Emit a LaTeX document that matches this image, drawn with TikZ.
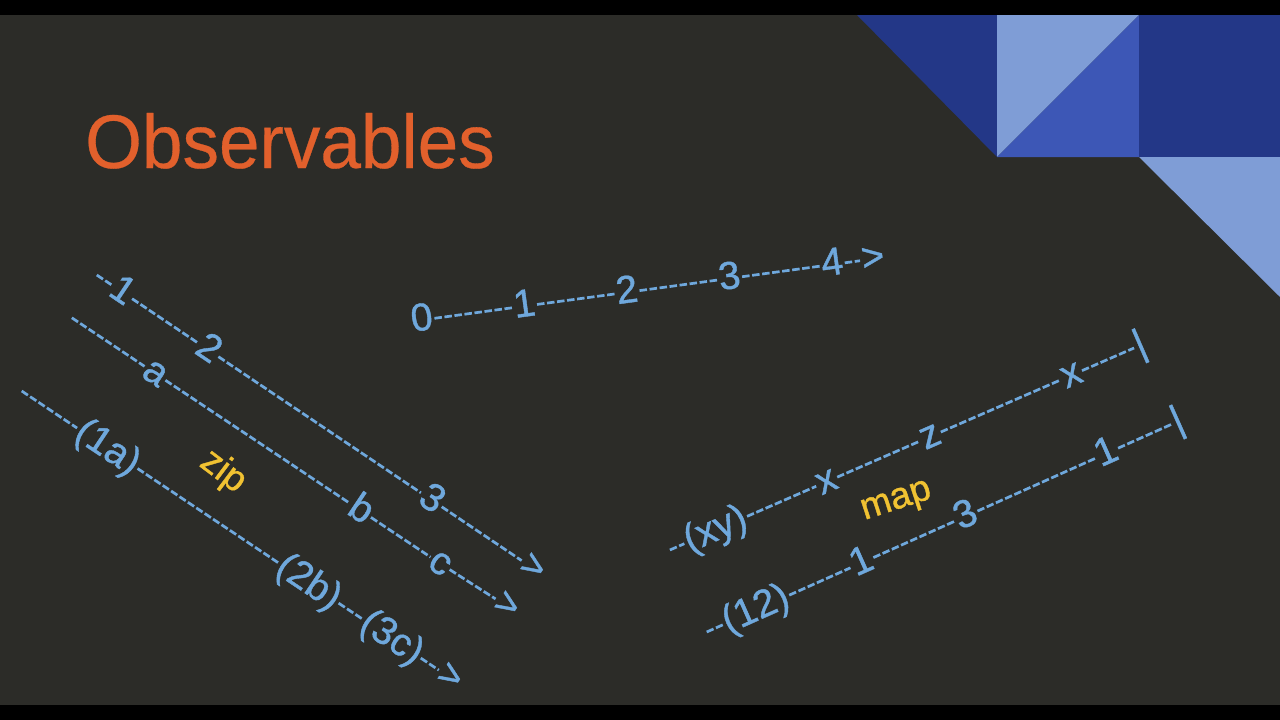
\documentclass[tikz,border=0pt]{standalone}
\usepackage{fontspec}
\usepackage{graphicx}
\setmainfont{Liberation Sans}
\newfontfamily\lblfont{Liberation Sans}[RawFeature={embolden=1.0}]
\newfontfamily\ttlfont{Liberation Sans}[RawFeature={embolden=0.4}]
\definecolor{bgcol}{HTML}{2C2C28}
\definecolor{tridark}{HTML}{233787}
\definecolor{trimid}{HTML}{3D57B6}
\definecolor{trilight}{HTML}{7F9DD6}
\definecolor{obsblue}{HTML}{6FA8DC}
\definecolor{obsorange}{HTML}{E2602C}
\definecolor{obsyellow}{HTML}{F1C232}
\tikzset{
  lbl/.style={text=obsblue, font=\lblfont\fontsize{39}{42}\selectfont, inner xsep=1.5pt, inner ysep=0pt, text height=21pt, text depth=0pt},
  oplbl/.style={text=obsyellow, font=\lblfont\fontsize{37}{40}\selectfont, inner sep=0pt},
  dline/.style={draw=obsblue, line width=2.7pt, dash pattern=on 7.5pt off 2.6pt},
  titlestyle/.style={text=obsorange, font=\ttlfont\fontsize{76}{80}\selectfont, inner sep=0pt}
}
\begin{document}
\begin{tikzpicture}[x=1pt,y=-1pt]
\useasboundingbox (0,0) rectangle (1280,720);
\fill[black] (0,0) rectangle (1280,720);
\fill[bgcol] (0,15) rectangle (1280,705);
% corner decoration
\fill[tridark] (857,15) -- (997,15) -- (997,157) -- cycle;
\fill[trilight] (997,15) -- (1139,15) -- (997,157) -- cycle;
\fill[trimid] (1139,15) -- (1139,157) -- (997,157) -- cycle;
\fill[tridark] (1139,15) rectangle (1280,157);
\fill[trilight] (1139,157) -- (1280,157) -- (1280,297) -- cycle;
% title
\node[titlestyle, anchor=base west] (title) at (85,168) {\scalebox{0.96}[1]{Observables}};
% top line
\node[lbl, rotate=7.7] (t0) at (422,320) {0};
\node[lbl, rotate=7.7] (t1) at (524.6,306.1) {1};
\node[lbl, rotate=7.7] (t2) at (627.1,292.3) {2};
\node[lbl, rotate=7.7] (t3) at (729.7,278.4) {3};
\node[lbl, rotate=7.7] (t4) at (832.3,264.5) {4};
\node[lbl, rotate=7.7] (ta) at (873,259) {>};
\draw[dline] (t0) -- (t1);
\draw[dline] (t1) -- (t2);
\draw[dline] (t2) -- (t3);
\draw[dline] (t3) -- (t4);
\draw[dline] (t4) -- (ta);
% zip line 1
\coordinate (s1) at (96.8,275.0);
\node[lbl, rotate=-33.9] (n1) at (121.7,291.7) {1};
\node[lbl, rotate=-33.9] (n2) at (208.0,349.7) {2};
\node[lbl, rotate=-33.9] (n3) at (431.3,499.8) {3};
\node[lbl, rotate=-33.9] (na) at (532.5,567.9) {>};
\draw[dline] (s1) -- (n1);
\draw[dline] (n1) -- (n2);
\draw[dline] (n2) -- (n3);
\draw[dline] (n3) -- (na);
% zip line 2
\coordinate (s2) at (71.8,317.8);
\node[lbl, rotate=-33.7] (la) at (155,373.3) {a};
\node[lbl, rotate=-33.7] (lb) at (360.5,510.4) {b};
\node[lbl, rotate=-33.7] (lc) at (440,563.4) {c};
\node[lbl, rotate=-33.7] (lar) at (506.6,606) {>};
\draw[dline] (s2) -- (la);
\draw[dline] (la) -- (lb);
\draw[dline] (lb) -- (lc);
\draw[dline] (lc) -- (lar);
% zip line 3
\coordinate (s3) at (21.7,391);
\node[lbl, rotate=-33.75] (p1) at (107.3,448.3) {(1a)};
\node[lbl, rotate=-33.75] (p2) at (308.4,582.9) {(2b)};
\node[lbl, rotate=-33.75] (p3) at (391.5,638.5) {(3c)};
\node[lbl, rotate=-33.75] (par) at (449.7,677.4) {>};
\draw[dline] (s3) -- (p1);
\draw[dline] (p1) -- (p2);
\draw[dline] (p2) -- (p3);
\draw[dline] (p3) -- (par);
\node[oplbl, rotate=-37] (zip) at (223,472) {zip};
% map line 1
\coordinate (s4) at (669.9,550);
\node[lbl, rotate=23.5] (m1) at (715.7,530) {(xy)};
\node[lbl, rotate=23.5] (m2) at (826.7,481.7) {x};
\node[lbl, rotate=23.5] (m3) at (930.3,436.6) {z};
\node[lbl, rotate=23.5] (m4) at (1071.5,375.2) {x};
\node[lbl, rotate=23.5] (mbar) at (1140.3,345.3) {|};
\draw[dline] (s4) -- (m1);
\draw[dline] (m1) -- (m2);
\draw[dline] (m2) -- (m3);
\draw[dline] (m3) -- (m4);
\draw[dline] (m4) -- (mbar);
% map line 2
\coordinate (s5) at (706.7,632);
\node[lbl, rotate=24] (q1) at (756,610) {(12)};
\node[lbl, rotate=24] (q2) at (861.9,562.7) {1};
\node[lbl, rotate=24] (q3) at (966,516.2) {3};
\node[lbl, rotate=24] (q4) at (1106.6,453.3) {1};
\node[lbl, rotate=24] (qbar) at (1177.8,421.5) {|};
\draw[dline] (s5) -- (q1);
\draw[dline] (q1) -- (q2);
\draw[dline] (q2) -- (q3);
\draw[dline] (q3) -- (q4);
\draw[dline] (q4) -- (qbar);
\node[oplbl, rotate=18] (map) at (897,503) {map};
\end{tikzpicture}
\end{document}
